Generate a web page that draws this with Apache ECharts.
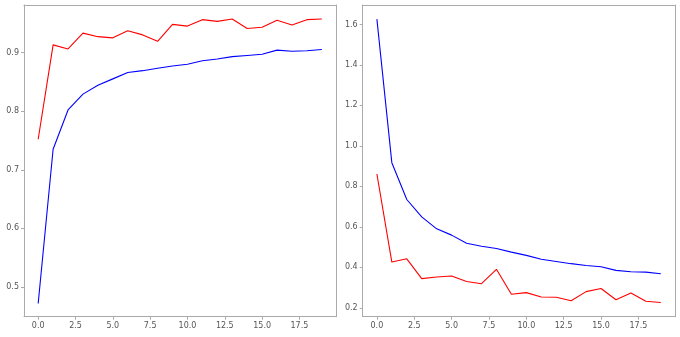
<!DOCTYPE html>
<html><head><meta charset="utf-8">
<script src="https://cdn.jsdelivr.net/npm/echarts@6/dist/echarts.min.js"></script>
<style>html,body{margin:0;padding:0;background:#fff}#c{width:680px;height:337px}</style>
</head><body><div id="c"></div>
<script>
const epochs = [0,1,2,3,4,5,6,7,8,9,10,11,12,13,14,15,16,17,18,19];
const accTrain = [0.472,0.735,0.802,0.829,0.844,0.855,0.866,0.869,0.873,0.877,0.880,0.886,0.889,0.893,0.895,0.897,0.904,0.902,0.903,0.905];
const accVal = [0.752,0.913,0.906,0.933,0.927,0.925,0.937,0.930,0.919,0.948,0.945,0.956,0.953,0.957,0.941,0.943,0.955,0.947,0.956,0.957];
const lossTrain = [1.626,0.917,0.735,0.649,0.590,0.559,0.519,0.504,0.493,0.475,0.459,0.440,0.429,0.418,0.409,0.403,0.385,0.378,0.376,0.368];
const lossVal = [0.861,0.426,0.442,0.344,0.352,0.357,0.330,0.319,0.390,0.267,0.275,0.253,0.252,0.235,0.280,0.295,0.240,0.273,0.232,0.226];
const xTicks = [0,2.5,5,7.5,10,12.5,15,17.5];
const yTicksAcc = [0.5,0.6,0.7,0.8,0.9];
const yTicksLoss = [0.2,0.4,0.6,0.8,1.0,1.2,1.4,1.6];

const frame = '#aaaaaa';
const lbl = {color:'#555', fontSize:8, fontFamily:'DejaVu Sans', formatter: v => Number(v).toFixed(1)};
function xAx(gi){
  return {type:'value', gridIndex:gi, min:-0.95, max:19.95,
    axisLine:{show:true, onZero:false, lineStyle:{color:frame}},
    axisTick:{show:true, length:3, customValues:xTicks, lineStyle:{color:frame}},
    axisLabel:Object.assign({customValues:xTicks, margin:5}, lbl),
    splitLine:{show:false}};
}
function xTop(gi){
  return {type:'value', gridIndex:gi, position:'top', min:-0.95, max:19.95,
    axisLine:{show:true, onZero:false, lineStyle:{color:frame}}, axisTick:{show:false}, axisLabel:{show:false}, splitLine:{show:false}};
}
function yAx(gi,mn,mx,ticks){
  return {type:'value', gridIndex:gi, min:mn, max:mx,
    axisLine:{show:true, onZero:false, lineStyle:{color:frame}},
    axisTick:{show:true, length:3, customValues:ticks, lineStyle:{color:frame}},
    axisLabel:Object.assign({customValues:ticks, margin:5}, lbl),
    splitLine:{show:false}};
}
function yRight(gi,mn,mx){
  return {type:'value', gridIndex:gi, position:'right', min:mn, max:mx,
    axisLine:{show:true, onZero:false, lineStyle:{color:frame}}, axisTick:{show:false}, axisLabel:{show:false}, splitLine:{show:false}};
}
function ser(xi,yi,data,color){
  return {type:'line', xAxisIndex:xi, yAxisIndex:yi, data:epochs.map((e,i)=>[e,data[i]]),
    showSymbol:false, symbol:'none', lineStyle:{color:color, width:1.1}, itemStyle:{color:color}, animation:false};
}
const chart = echarts.init(document.getElementById('c'), null, {renderer:'canvas'});
chart.setOption({
  animation:false,
  grid:[{left:24, top:5, width:312, height:311.7},{left:362.7, top:5, width:312.3, height:311.7}],
  xAxis:[xAx(0), xAx(1), xTop(0), xTop(1)],
  yAxis:[yAx(0,0.4494,0.981,yTicksAcc), yAx(1,0.156,1.696,yTicksLoss), yRight(0,0.4494,0.981), yRight(1,0.156,1.696)],
  series:[
    ser(0,0,accVal,'#ff0000'),
    ser(0,0,accTrain,'#0000ff'),
    ser(1,1,lossTrain,'#0000ff'),
    ser(1,1,lossVal,'#ff0000')
  ]
});
</script></body></html>
